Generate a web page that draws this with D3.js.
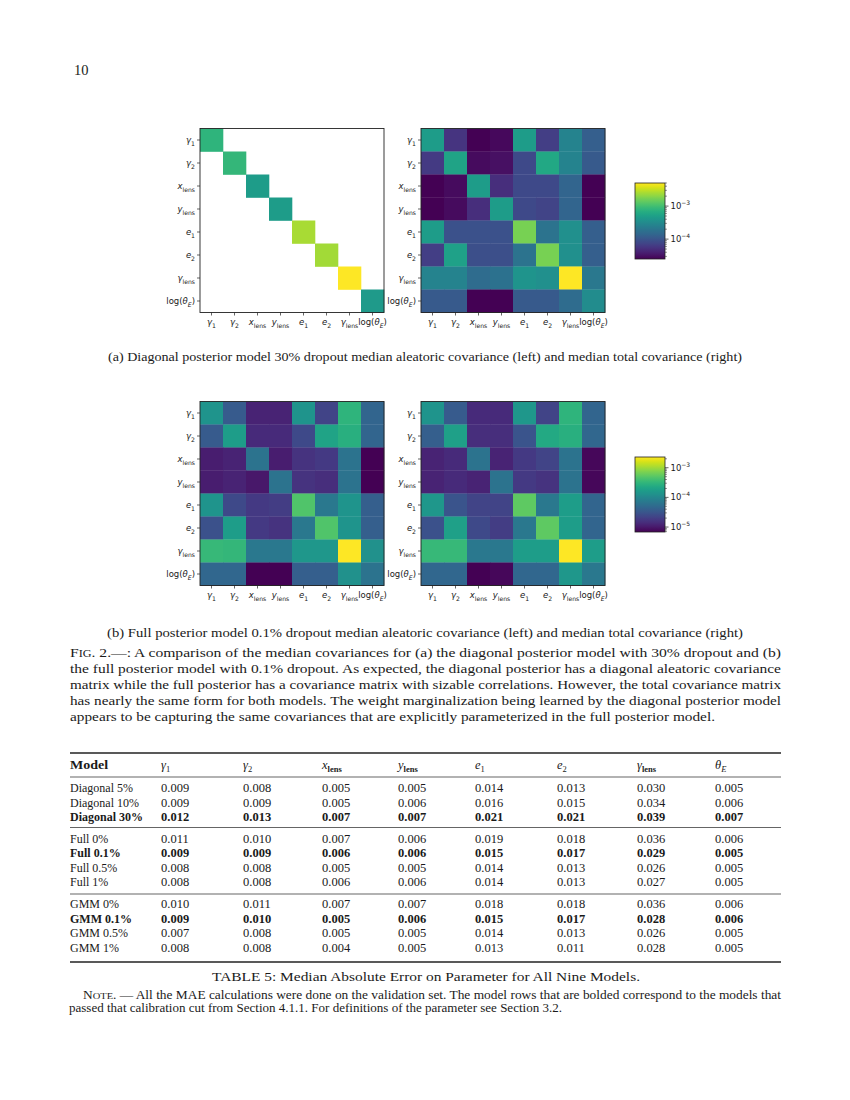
<!DOCTYPE html>
<html><head><meta charset="utf-8">
<script src="https://cdn.jsdelivr.net/npm/d3@7"></script>
<style>body{margin:0;background:#fff}</style>
</head><body><svg id="c" width="850" height="1100"></svg>
<script>
// ---------- data ----------
const paramSymbols = ["γ","γ","x","y","e","e","γ","θ"];
const paramSubs    = ["1","2","lens","lens","1","2","lens","E"];

// (a) diagonal posterior 30% dropout: aleatoric covariance (diagonal only)
const diagAleatoric = [7.9e-4, 8.3e-4, 4.6e-4, 4.6e-4, 2.5e-3, 2.4e-3, 4.9e-3, 4.4e-4];
// (a) total covariance
const diagTotal = [
  [4.6e-4, 5.6e-5, 2.5e-5, 2.8e-5, 4.6e-4, 6.5e-5, 2.7e-4, 1.23e-4],
  [6.2e-5, 5.4e-4, 2.9e-5, 3.1e-5, 8.1e-5, 6.0e-4, 2.7e-4, 1.1e-4],
  [2.5e-5, 2.9e-5, 4.6e-4, 5.0e-5, 8.1e-5, 8.1e-5, 1.37e-4, 2.5e-5],
  [2.5e-5, 2.9e-5, 5.0e-5, 4.6e-4, 8.1e-5, 7.2e-5, 1.37e-4, 2.5e-5],
  [4.6e-4, 9.4e-5, 9.4e-5, 9.4e-5, 1.7e-3, 1.9e-4, 3.5e-4, 1.23e-4],
  [6.5e-5, 5.1e-4, 9.0e-5, 9.0e-5, 1.9e-4, 1.7e-3, 3.5e-4, 1.23e-4],
  [2.7e-4, 2.7e-4, 1.6e-4, 1.8e-4, 3.9e-4, 3.5e-4, 5.0e-3, 2.1e-4],
  [1.1e-4, 1.1e-4, 2.5e-5, 2.5e-5, 1.1e-4, 1.1e-4, 1.6e-4, 3.2e-4]
];
// (b) full posterior 0.1% dropout: aleatoric covariance
const fullAleatoric = [
  [1.4e-4, 3.5e-5, 1.2e-5, 1.2e-5, 1.4e-4, 2.2e-5, 3.0e-4, 4.4e-5],
  [3.5e-5, 1.7e-4, 1.36e-5, 1.36e-5, 2.45e-5, 2.0e-4, 2.7e-4, 4.4e-5],
  [1.08e-5, 1.2e-5, 6.2e-5, 1.08e-5, 1.6e-5, 1.8e-5, 6.2e-5, 6.8e-6],
  [1.08e-5, 1.2e-5, 1.0e-5, 6.2e-5, 1.6e-5, 1.45e-5, 6.2e-5, 6.8e-6],
  [1.4e-4, 2.45e-5, 1.8e-5, 1.9e-5, 4.6e-4, 7.0e-5, 1.4e-4, 3.9e-5],
  [2.9e-5, 1.7e-4, 1.8e-5, 1.6e-5, 7.0e-5, 4.6e-4, 1.4e-4, 3.9e-5],
  [3.4e-4, 3.2e-4, 7.0e-5, 7.0e-5, 1.5e-4, 1.5e-4, 2.3e-3, 1.26e-4],
  [4.7e-5, 4.7e-5, 6.8e-6, 6.8e-6, 3.9e-5, 3.9e-5, 1.26e-4, 6.2e-5]
];
// (b) total covariance
const fullTotal = [
  [1.4e-4, 3.5e-5, 1.36e-5, 1.36e-5, 1.5e-4, 2.2e-5, 3.0e-4, 4.4e-5],
  [3.9e-5, 1.8e-4, 1.45e-5, 1.45e-5, 3.1e-5, 2.3e-4, 2.7e-4, 4.7e-5],
  [1.2e-5, 1.36e-5, 6.2e-5, 1.2e-5, 1.8e-5, 2.2e-5, 6.2e-5, 7.6e-6],
  [1.2e-5, 1.36e-5, 1.2e-5, 6.2e-5, 1.8e-5, 1.6e-5, 6.2e-5, 7.6e-6],
  [1.5e-4, 3.1e-5, 2.2e-5, 2.2e-5, 5.4e-4, 7.0e-5, 1.7e-4, 4.4e-5],
  [2.9e-5, 1.8e-4, 2.45e-5, 1.9e-5, 7.0e-5, 5.4e-4, 1.7e-4, 4.4e-5],
  [3.4e-4, 3.4e-4, 7.0e-5, 7.0e-5, 1.7e-4, 1.7e-4, 2.3e-3, 1.7e-4],
  [4.7e-5, 4.7e-5, 6.8e-6, 7.6e-6, 4.7e-5, 4.7e-5, 1.5e-4, 7.0e-5]
];
const colorDomainA = [2.5e-5, 5.0e-3];
const colorDomainB = [6.8e-6, 2.3e-3];

// Table 5
const models = ["Diagonal 5%","Diagonal 10%","Diagonal 30%","Full 0%","Full 0.1%","Full 0.5%","Full 1%","GMM 0%","GMM 0.1%","GMM 0.5%","GMM 1%"];
const boldRows = [false,false,true,false,true,false,false,false,true,false,false];
const maeGamma1 = [0.009,0.009,0.012,0.011,0.009,0.008,0.008,0.010,0.009,0.007,0.008];
const maeGamma2 = [0.008,0.009,0.013,0.010,0.009,0.008,0.008,0.011,0.010,0.008,0.008];
const maeXlens  = [0.005,0.005,0.007,0.007,0.006,0.005,0.006,0.007,0.005,0.005,0.004];
const maeYlens  = [0.005,0.006,0.007,0.006,0.006,0.005,0.006,0.007,0.006,0.005,0.005];
const maeE1     = [0.014,0.016,0.021,0.019,0.015,0.014,0.014,0.018,0.015,0.014,0.013];
const maeE2     = [0.013,0.015,0.021,0.018,0.017,0.013,0.013,0.018,0.017,0.013,0.011];
const maeGammaLens = [0.030,0.034,0.039,0.036,0.029,0.026,0.027,0.036,0.028,0.026,0.028];
const maeThetaE = [0.005,0.006,0.007,0.006,0.005,0.005,0.005,0.006,0.006,0.005,0.005];

// ---------- drawing ----------
const svg = d3.select("#c");
svg.append("rect").attr("width",850).attr("height",1100).attr("fill","#fff");
const SANS = "DejaVu Sans";
const SERIF = "Liberation Serif";
const INK = "#1a1a1a";
const LBL = 8.5;

function mathLabel(t, i, size) {
  const sub = paramSubs[i];
  const dy = size*0.3;
  if (i === 7) t.append("tspan").text("log(");
  t.append("tspan").attr("font-style","italic").text(paramSymbols[i]);
  t.append("tspan").attr("font-size", size*0.72).attr("dy", dy)
    .attr("font-style", /^[A-Z]$/.test(sub) ? "italic" : "normal").text(sub);
  if (i === 7) t.append("tspan").attr("dy", -dy).text(")");
}

function heatmap(matrix, color, x0, y0, size) {
  const g = svg.append("g");
  const idx = d3.range(8);
  const x = d3.scaleBand().domain(idx).range([x0, x0+size]);
  const y = d3.scaleBand().domain(idx).range([y0, y0+size]);
  const cells = [];
  idx.forEach(r => idx.forEach(c => {
    const v = matrix[r][c];
    if (v != null) cells.push({r, c, v});
  }));
  g.selectAll("rect.cell").data(cells).enter().append("rect")
    .attr("x", d => x(d.c)).attr("y", d => y(d.r))
    .attr("width", x.bandwidth()+0.3).attr("height", y.bandwidth()+0.3)
    .attr("fill", d => color(d.v));
  g.append("rect").attr("x", x0).attr("y", y0).attr("width", size).attr("height", size)
    .attr("fill","none").attr("stroke","#222").attr("stroke-width",0.9);
  const ax = g.append("g").attr("transform",`translate(0,${y0+size})`)
    .call(d3.axisBottom(x).tickSize(3).tickFormat(() => ""));
  const ay = g.append("g").attr("transform",`translate(${x0},0)`)
    .call(d3.axisLeft(y).tickSize(3).tickFormat(() => ""));
  [ax, ay].forEach(a => { a.select(".domain").remove(); a.selectAll("line").attr("stroke","#222").attr("stroke-width",0.7); });
  idx.forEach(i => {
    const tx = g.append("text").attr("x", x(i)+x.bandwidth()/2).attr("y", y0+size+12.5)
      .attr("text-anchor","middle").attr("font-family",SANS).attr("font-size",LBL).attr("fill",INK);
    mathLabel(tx, i, LBL);
    const ty = g.append("text").attr("x", x0-5).attr("y", y(i)+y.bandwidth()/2+3)
      .attr("text-anchor","end").attr("font-family",SANS).attr("font-size",LBL).attr("fill",INK);
    mathLabel(ty, i, LBL);
  });
}

function colorbar(color, domain, x0, y0, w, h, id) {
  const g = svg.append("g");
  const grad = svg.append("defs").append("linearGradient").attr("id", id)
    .attr("x1",0).attr("y1",1).attr("x2",0).attr("y2",0);
  d3.range(0, 41).forEach(k => {
    const v = domain[0]*Math.pow(domain[1]/domain[0], k/40);
    grad.append("stop").attr("offset", (k/40*100)+"%").attr("stop-color", color(v));
  });
  g.append("rect").attr("x",x0).attr("y",y0).attr("width",w).attr("height",h)
    .attr("fill",`url(#${id})`).attr("stroke","#222").attr("stroke-width",0.8);
  const ys = d3.scaleLog().domain(domain).range([y0+h, y0]);
  ys.ticks().forEach(v => {
    const e = Math.log10(v);
    const major = Math.abs(e - Math.round(e)) < 1e-9;
    g.append("line").attr("x1",x0+w).attr("x2",x0+w+(major?3.5:2))
      .attr("y1",ys(v)).attr("y2",ys(v)).attr("stroke","#222").attr("stroke-width",major?0.7:0.5);
    if (major) {
      const t = g.append("text").attr("x",x0+w+5.5).attr("y",ys(v)+3)
        .attr("font-family",SANS).attr("font-size",LBL).attr("fill",INK);
      t.append("tspan").text("10");
      t.append("tspan").attr("font-size",6).attr("dy",-4).text("−" + Math.abs(Math.round(e)));
    }
  });
}

const colorA = d3.scaleSequentialLog(d3.interpolateViridis).domain(colorDomainA).clamp(true);
const colorB = d3.scaleSequentialLog(d3.interpolateViridis).domain(colorDomainB).clamp(true);

const diagMatrix = d3.range(8).map(r => d3.range(8).map(c => r === c ? diagAleatoric[r] : null));
heatmap(diagMatrix, colorA, 200, 128.5, 184);
heatmap(diagTotal, colorA, 421, 128.5, 184);
colorbar(colorA, colorDomainA, 635, 183, 30, 76, "gA");
heatmap(fullAleatoric, colorB, 200, 401.5, 184);
heatmap(fullTotal, colorB, 421, 401.5, 184);
colorbar(colorB, colorDomainB, 635, 457, 30, 75, "gB");

// ---------- text ----------
function txt(x, y, s, opts = {}) {
  const t = svg.append("text").attr("x",x).attr("y",y).attr("font-family",SERIF)
    .attr("font-size", opts.size || 13).attr("fill",INK)
    .attr("text-anchor", opts.anchor || "start");
  if (opts.weight) t.attr("font-weight", opts.weight);
  if (s != null) t.text(s);
  return t;
}
function fit(t, len) {
  t.attr("textLength", len).attr("lengthAdjust","spacingAndGlyphs");
  return t;
}
function stretch(t, k) {
  const w = t.node().getComputedTextLength();
  return fit(t, w * k);
}
txt(74, 75, "10", {size: 14.5});
fit(txt(425, 361, "(a) Diagonal posterior model 30% dropout median aleatoric covariance (left) and median total covariance (right)", {anchor:"middle", size: 13.5}), 634);
fit(txt(425, 637, "(b) Full posterior model 0.1% dropout median aleatoric covariance (left) and median total covariance (right)", {anchor:"middle", size: 13.5}), 636);

const para = [
  null,
  "the full posterior model with 0.1% dropout.  As expected, the diagonal posterior has a diagonal aleatoric covariance",
  "matrix while the full posterior has a covariance matrix with sizable correlations. However, the total covariance matrix",
  "has nearly the same form for both models. The weight marginalization being learned by the diagonal posterior model",
  "appears to be capturing the same covariances that are explicitly parameterized in the full posterior model."
];
{
  const t = txt(70, 657, null, {size: 13.5});
  t.append("tspan").text("F");
  t.append("tspan").attr("font-size",10.5).text("IG");
  t.append("tspan").text(". 2.—: A comparison of the median covariances for (a) the diagonal posterior model with 30% dropout and (b)");
  fit(t, 711);
}
para.forEach((s, i) => {
  if (!s) return;
  fit(txt(70, 657 + i*16, s, {size: 13.5}), i < 4 ? 711 : 645);
});

// ---------- table ----------
const tableCols = [161, 243, 322, 398, 475, 557, 637, 715];
const tableData = [maeGamma1, maeGamma2, maeXlens, maeYlens, maeE1, maeE2, maeGammaLens, maeThetaE];
const rowY = d3.scaleLinear().domain([0, 1]).range([792, 806.5]);
const groupGap = [0, 0, 0, 7, 7, 7, 7, 14.5, 14.5, 14.5, 14.5];
[[753,1.3],[777,0.7],[827.5,0.7],[894,0.7],[962,1.3]].forEach(([yy, sw]) =>
  svg.append("line").attr("x1",70).attr("x2",781).attr("y1",yy).attr("y2",yy).attr("stroke","#222").attr("stroke-width",sw));

stretch(txt(70, 769, "Model", {size: 12.5, weight: "bold"}), 1.12);
tableCols.forEach((cx, i) => {
  const t = txt(cx, 769, null, {size: 12.5});
  t.append("tspan").attr("font-style","italic").text(paramSymbols[i]);
  const sub = paramSubs[i];
  t.append("tspan").attr("font-size", 8.5).attr("dy", 2.5)
    .attr("font-weight", sub === "lens" ? "bold" : "normal")
    .attr("font-style", sub === "E" ? "italic" : "normal").text(sub);
});
// calibrate model-name width: "Diagonal 10%" spans ~69px in the reference
const probe = txt(0, -50, "Diagonal 10%", {size: 12.5});
const nameK = 69 / probe.node().getComputedTextLength();
probe.remove();
models.forEach((m, r) => {
  const yy = rowY(r) + groupGap[r];
  const w = boldRows[r] ? "bold" : null;
  stretch(txt(70, yy, m, {size: 12.5, weight: w}), nameK);
  tableData.forEach((col, c) => {
    txt(tableCols[c], yy, col[r].toFixed(3), {size: 12.5, weight: w});
  });
});

fit(txt(426, 981, "TABLE 5: Median Absolute Error on Parameter for All Nine Models.", {anchor:"middle", size: 13.5}), 428);
{
  const t = txt(83, 999, null, {size: 11.5});
  t.append("tspan").text("N");
  t.append("tspan").attr("font-size",9).text("OTE");
  t.append("tspan").text(". — All the MAE calculations were done on the validation set.  The model rows that are bolded correspond to the models that");
  fit(t, 698);
}
fit(txt(69, 1012, "passed that calibration cut from Section 4.1.1. For definitions of the parameter see Section 3.2.", {size: 11.5}), 493);
</script></body></html>
